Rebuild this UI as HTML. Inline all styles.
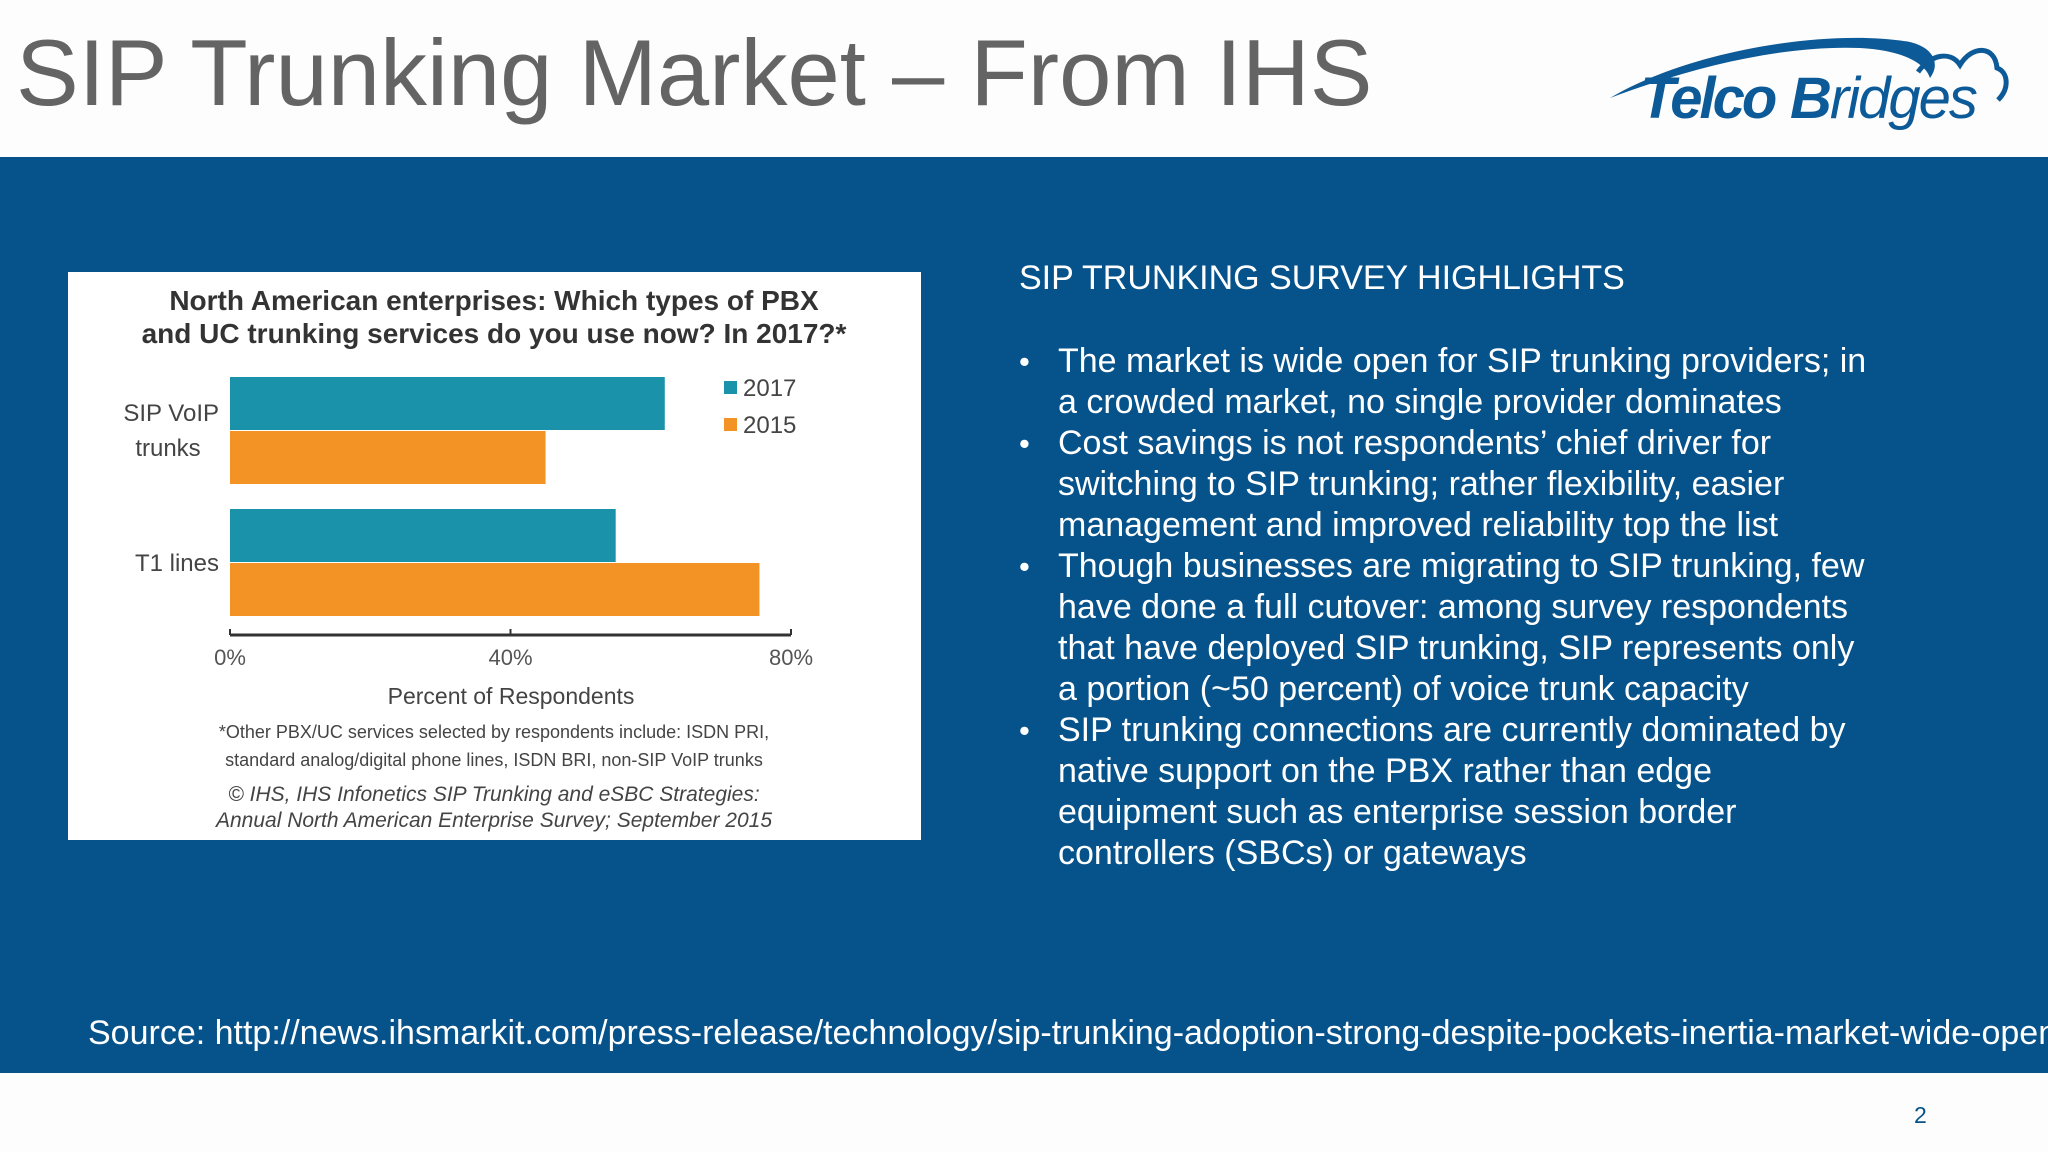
<!DOCTYPE html>
<html><head><meta charset="utf-8">
<style>
html,body{margin:0;padding:0}
body{width:2048px;height:1152px;position:relative;overflow:hidden;background:#fdfdfd;font-family:"Liberation Sans",Arial,sans-serif}
.abs{position:absolute}
#band{left:0;top:157px;width:2048px;height:916px;background:#06528b}
#title{left:16px;top:26px;font-size:94px;color:#646464;white-space:nowrap;line-height:1}
#chartbox{left:68px;top:272px;width:853px;height:568px;background:#fff}
#heading{left:1019px;top:259px;font-size:34px;color:#fff;white-space:nowrap}
#bullets{left:1019px;top:341px;font-size:34px;color:#fff;line-height:41px;white-space:nowrap}
.b{position:relative;padding-left:39px}
.b:before{content:"•";position:absolute;left:0;top:0;font-size:31px}
#source{left:88px;top:1014px;font-size:34px;color:#fff;white-space:nowrap}
#pnum{left:1914px;top:1102px;font-size:23px;color:#06528b}
</style></head>
<body>
<div id="title" class="abs">SIP Trunking Market – From IHS</div>
<svg class="abs" style="left:1600px;top:20px" width="420" height="120">
 <path d="M10 78 C 90 30, 230 8, 310 22 C 335 28, 340 45, 330 58 C 325 42, 300 30, 260 28 C 180 25, 90 48, 10 78 Z" fill="#0d5a98"/>
 <path d="M318 52 C 330 35, 350 30, 360 45 C 372 25, 395 25, 397 48 C 408 52, 410 68, 398 80" fill="none" stroke="#0d5a98" stroke-width="5"/>
 <text x="40" y="98" font-family="Liberation Sans, sans-serif" font-size="58" font-weight="bold" font-style="italic" fill="#0d5a98" letter-spacing="-3">Telco</text>
 <text x="190" y="98" font-family="Liberation Sans, sans-serif" font-size="58" font-style="italic" fill="#0d5a98" letter-spacing="-2"><tspan font-weight="bold">B</tspan>ridges</text>
</svg>
<div id="band" class="abs"></div>

<div id="chartbox" class="abs">
<svg width="853" height="568" id="chart">
 <text x="426" y="38" text-anchor="middle" font-size="28" font-weight="bold" fill="#333">North American enterprises: Which types of PBX</text>
 <text x="426" y="71" text-anchor="middle" font-size="28" font-weight="bold" fill="#333">and UC trunking services do you use now? In 2017?*</text>
 <g id="bars"></g>
 <g id="axis"></g>
 <text x="151" y="149" text-anchor="end" font-size="24" fill="#444">SIP VoIP</text>
 <text x="100" y="184" text-anchor="middle" font-size="24" fill="#444">trunks</text>
 <text x="151" y="299" text-anchor="end" font-size="24" fill="#444">T1 lines</text>
 <rect x="656" y="109" width="13" height="13" fill="#1a93aa"/>
 <text x="675" y="124" font-size="24" fill="#444">2017</text>
 <rect x="656" y="146" width="13" height="13" fill="#f39325"/>
 <text x="675" y="161" font-size="24" fill="#444">2015</text>
 <text x="443" y="432" text-anchor="middle" font-size="23" fill="#444">Percent of Respondents</text>
 <text x="426" y="466" text-anchor="middle" font-size="18" fill="#444">*Other PBX/UC services selected by respondents include: ISDN PRI,</text>
 <text x="426" y="494" text-anchor="middle" font-size="18" fill="#444">standard analog/digital phone lines, ISDN BRI, non-SIP VoIP trunks</text>
 <text x="426" y="529" text-anchor="middle" font-size="21" fill="#444" font-style="italic">© IHS, IHS Infonetics SIP Trunking and eSBC Strategies:</text>
 <text x="426" y="555" text-anchor="middle" font-size="21" fill="#444" font-style="italic">Annual North American Enterprise Survey; September 2015</text>
</svg>
</div>

<div id="heading" class="abs">SIP TRUNKING SURVEY HIGHLIGHTS</div>
<div id="bullets" class="abs">
 <div class="b">The market is wide open for SIP trunking providers; in<br>a crowded market, no single provider dominates</div>
 <div class="b">Cost savings is not respondents’ chief driver for<br>switching to SIP trunking; rather flexibility, easier<br>management and improved reliability top the list</div>
 <div class="b">Though businesses are migrating to SIP trunking, few<br>have done a full cutover: among survey respondents<br>that have deployed SIP trunking, SIP represents only<br>a portion (~50 percent) of voice trunk capacity</div>
 <div class="b">SIP trunking connections are currently dominated by<br>native support on the PBX rather than edge<br>equipment such as enterprise session border<br>controllers (SBCs) or gateways</div>
</div>
<div id="source" class="abs">Source: http://news.ihsmarkit.com/press-release/technology/sip-trunking-adoption-strong-despite-pockets-inertia-market-wide-open</div>
<div id="pnum" class="abs">2</div>

<script>
const categories = ["SIP VoIP trunks", "T1 lines"];
const values2017 = [62, 55];
const values2015 = [45, 75.5];
const tickValues = [0, 40, 80];
const tickLabels = ["0%", "40%", "80%"];

const NS = "http://www.w3.org/2000/svg";
const x0 = 162, x1 = 723, xMax = 80;
function xScale(v){ return x0 + (x1 - x0) * v / xMax; }
const groupTop = [105, 237], barH = 53;
const bars = document.getElementById("bars");
const axis = document.getElementById("axis");
function mk(tag, attrs, parent){ const e = document.createElementNS(NS, tag); for (const k in attrs) e.setAttribute(k, attrs[k]); parent.appendChild(e); return e; }
categories.forEach((c, i) => {
  const r1 = mk("rect", {x: xScale(0), y: groupTop[i], width: xScale(values2017[i]) - xScale(0), height: barH, fill: "#1a93aa"}, bars);
  
  
  const r2 = mk("rect", {x: xScale(0), y: groupTop[i] + barH + 1, width: xScale(values2015[i]) - xScale(0), height: barH, fill: "#f39325"}, bars);
  
  
});
const axY = 363;
const line = mk("line", {x1: xScale(0), x2: xScale(xMax), y1: axY, y2: axY, stroke: "#333", "stroke-width": 3}, axis);


tickValues.forEach((t, i) => {
  const tk = mk("line", {x1: xScale(t), x2: xScale(t), y1: axY - 6, y2: axY, stroke: "#333", "stroke-width": 2}, axis);
  
  
  const tl = mk("text", {x: xScale(t), y: axY + 30, "text-anchor": "middle", "font-size": 22, fill: "#555"}, axis);
  tl.textContent = tickLabels[i];
  
  
});
</script>
</body></html>
